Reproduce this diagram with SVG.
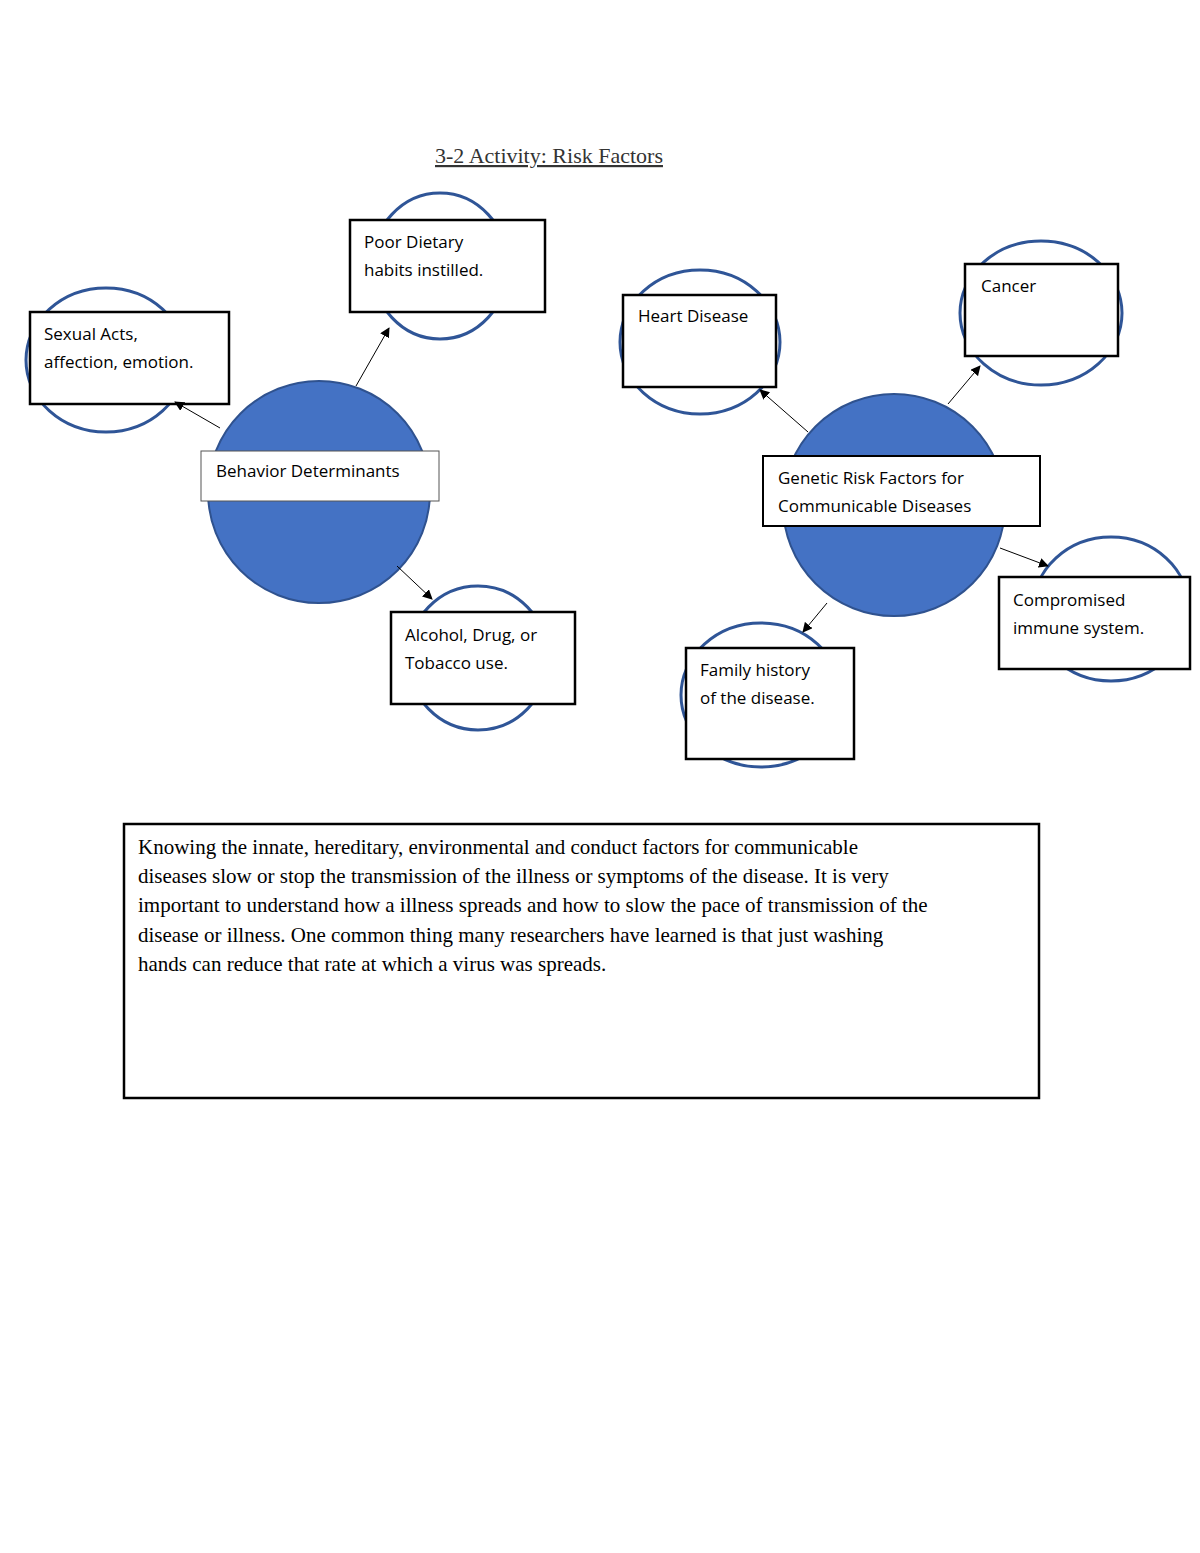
<svg xmlns="http://www.w3.org/2000/svg" width="1200" height="1553" viewBox="0 0 1200 1553">
<style>
.big{fill:#4472C4;stroke:#2F528F;stroke-width:2}
.ring{fill:#fff;stroke:#2F5597;stroke-width:3}
.box{fill:#fff;stroke:#000;stroke-width:2.5}
.lbl{fill:#fff;stroke:#555;stroke-width:1}
.t{font-family:"Open Sans","DejaVu Sans",sans-serif;font-size:17px;fill:#000}
.s{font-family:"Liberation Serif",serif;font-size:21px;fill:#000}
.c{stroke:#000;stroke-width:1;fill:none;marker-end:url(#a)}
</style>
<defs><marker id="a" viewBox="0 0 10 10" refX="9" refY="5" markerWidth="10" markerHeight="10" markerUnits="userSpaceOnUse" orient="auto"><path d="M0,0L10,5L0,10z" fill="#000"/></marker></defs>
<rect width="1200" height="1553" fill="#fff"/>
<text x="549" y="163" text-anchor="middle" font-family="Liberation Serif,serif" font-size="22" fill="#333" text-decoration="underline">3-2 Activity: Risk Factors</text>
<g id="poor"><ellipse class="ring" cx="440" cy="266" rx="68" ry="73"/><rect class="box" x="350" y="220" width="195" height="92"/><text class="t" x="364" y="248">Poor Dietary</text><text class="t" x="364" y="276">habits instilled.</text></g>
<g id="sexual"><ellipse class="ring" cx="106" cy="360" rx="80" ry="72"/><rect class="box" x="30" y="312" width="199" height="92"/><text class="t" x="44" y="340">Sexual Acts,</text><text class="t" x="44" y="368">affection, emotion.</text></g>
<g id="alcohol"><ellipse class="ring" cx="478" cy="658" rx="70" ry="72"/><rect class="box" x="391" y="612" width="184" height="92"/><text class="t" x="405" y="641">Alcohol, Drug, or</text><text class="t" x="405" y="669">Tobacco use.</text></g>
<g id="behavior"><circle class="big" cx="319" cy="492" r="111"/><rect class="lbl" x="201" y="451" width="238" height="50"/><text class="t" x="216" y="477">Behavior Determinants</text></g>
<g id="heart"><ellipse class="ring" cx="700" cy="342" rx="80" ry="72"/><rect class="box" x="623" y="295" width="153" height="92"/><text class="t" x="638" y="322">Heart Disease</text></g>
<g id="cancer"><ellipse class="ring" cx="1041" cy="313" rx="81" ry="72"/><rect class="box" x="965" y="264" width="153" height="92"/><text class="t" x="981" y="292">Cancer</text></g>
<g id="immune"><ellipse class="ring" cx="1111" cy="609" rx="78" ry="72"/><rect class="box" x="999" y="577" width="191" height="92"/><text class="t" x="1013" y="606">Compromised</text><text class="t" x="1013" y="634">immune system.</text></g>
<g id="family"><ellipse class="ring" cx="761" cy="695" rx="80" ry="72"/><rect class="box" x="686" y="648" width="168" height="111"/><text class="t" x="700" y="676">Family history</text><text class="t" x="700" y="704">of the disease.</text></g>
<g id="genetic"><circle class="big" cx="894" cy="505" r="111"/><rect class="box" x="763" y="456" width="277" height="70" style="stroke-width:2"/><text class="t" x="778" y="484">Genetic Risk Factors for</text><text class="t" x="778" y="512">Communicable Diseases</text></g>
<g id="connectors">
<line class="c" x1="356" y1="386" x2="389" y2="328"/>
<line class="c" x1="220" y1="428" x2="175" y2="402"/>
<line class="c" x1="397" y1="566" x2="432" y2="599"/>
<line class="c" x1="808" y1="432" x2="760" y2="390"/>
<line class="c" x1="948" y1="404" x2="980" y2="366"/>
<line class="c" x1="1000" y1="548" x2="1048" y2="566"/>
<line class="c" x1="827" y1="603" x2="803" y2="632"/>
</g>
<g id="summary"><rect x="124" y="824" width="915" height="274" fill="#fff" stroke="#000" stroke-width="2.5"/>
<text class="s" x="138" y="854">Knowing the innate, hereditary, environmental and conduct factors for communicable</text>
<text class="s" x="138" y="883">diseases slow or stop the transmission of the illness or symptoms of the disease. It is very</text>
<text class="s" x="138" y="912">important to understand how a illness spreads and how to slow the pace of transmission of the</text>
<text class="s" x="138" y="942">disease or illness. One common thing many researchers have learned is that just washing</text>
<text class="s" x="138" y="971">hands can reduce that rate at which a virus was spreads.</text></g>
</svg>
